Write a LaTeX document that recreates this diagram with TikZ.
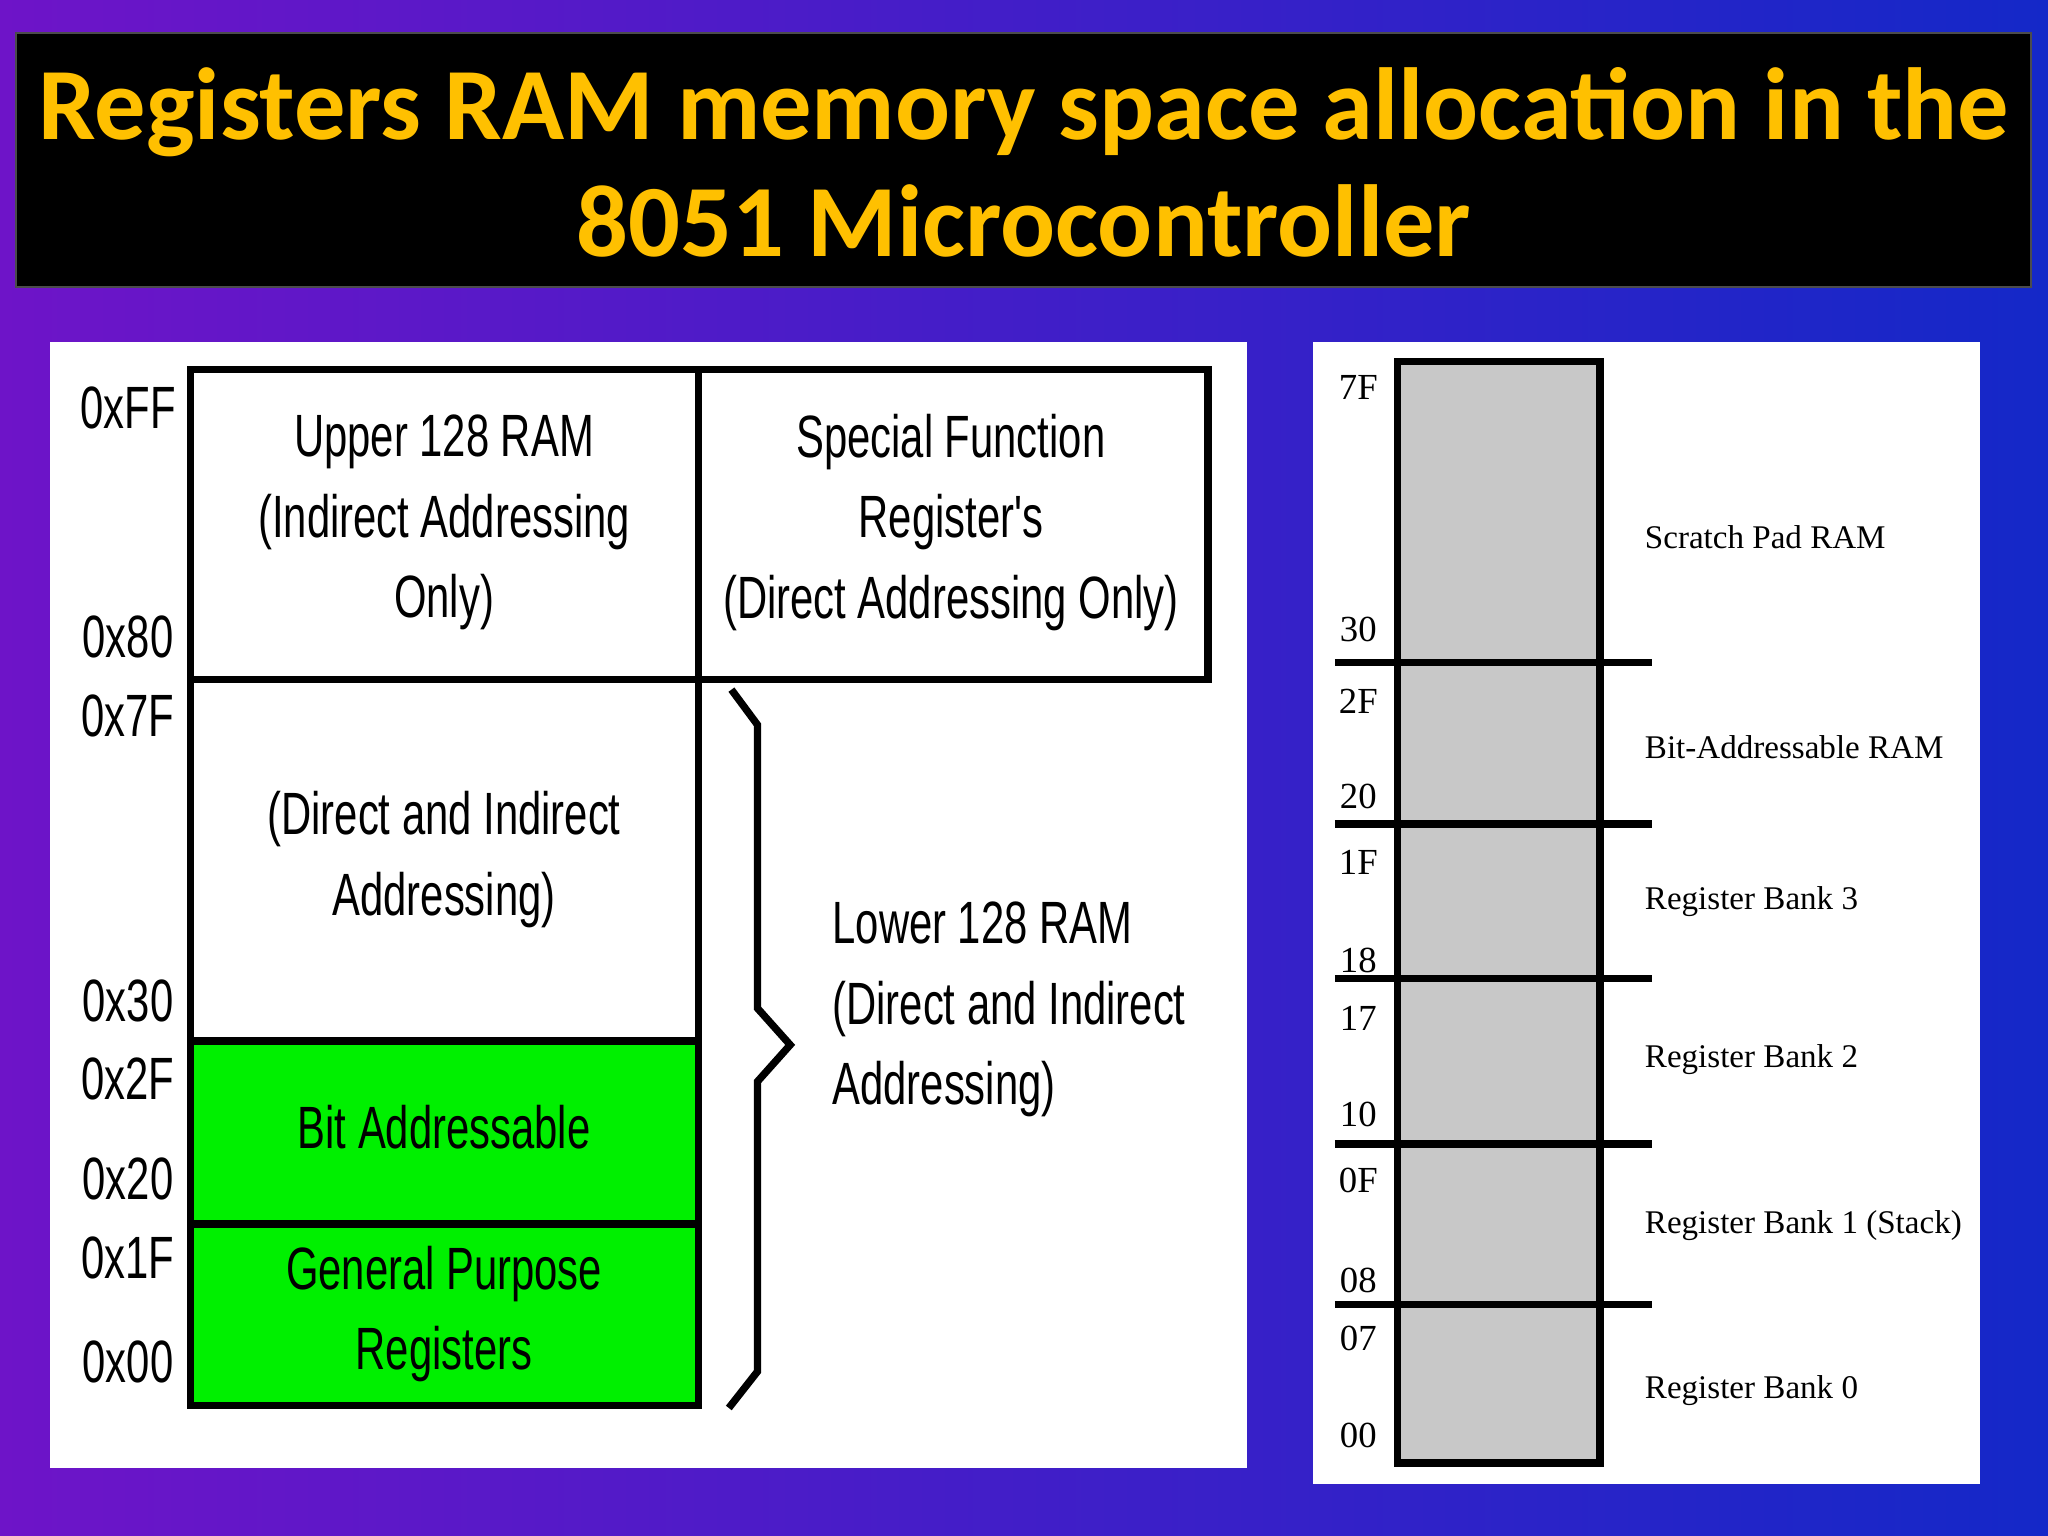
\documentclass[tikz,border=0pt]{standalone}
\usepackage{fontspec}
\setmainfont{Liberation Serif}
\newfontfamily\titlefont{Carlito}
\newfontfamily\condfont[FakeStretch=0.7]{Liberation Sans}
\definecolor{titleyellow}{RGB}{255,192,0}
\definecolor{bgpurple}{RGB}{110,20,200}
\definecolor{bgblue}{RGB}{20,40,200}
\definecolor{boxgreen}{RGB}{0,240,0}
\definecolor{padgray}{RGB}{200,200,200}
\begin{document}
\begin{tikzpicture}[x=0.01cm,y=-0.01cm,
  edge/.style={line width=1.6pt},
  addr/.style={font=\condfont\fontsize{13}{15}\selectfont},
  lab/.style={font=\condfont\fontsize{13}{17.5}\selectfont,align=center},
  raddr/.style={font=\fontsize{8}{10}\selectfont},
  rlab/.style={font=\fontsize{7.2}{10}\selectfont,anchor=west}]
\shade[left color=bgpurple,right color=bgblue] (0,0) rectangle (1568,1176);
\useasboundingbox (0,0) rectangle (1568,1176);
% title
\fill[black] (12,25) rectangle (1555,220);
\draw[gray!60!black] (12,25) rectangle (1555,220);
\node[font=\titlefont\bfseries\fontsize{22.3}{25.5}\selectfont,text=titleyellow,align=center] (title) at (784,124)
  {Registers RAM memory space allocation in the\\8051 Microcontroller};
% left panel
\fill[white] (38,262) rectangle (955,1124);
\fill[boxgreen] (146,797) rectangle (535,1076);
\draw[edge] (146,283) rectangle (925,520);
\draw[edge] (535,283) -- (535,1076);
\draw[edge] (146,520) rectangle (535,1076);
\draw[edge] (146,797) -- (535,797);
\draw[edge] (146,937) -- (535,937);
\node[lab] (upper) at (340,400) {Upper 128 RAM\\(Indirect Addressing\\Only)};
\node[lab] (sfr) at (728,400) {Special Function\\Register's\\(Direct Addressing Only)};
\node[lab] (direct) at (340,658) {(Direct and Indirect\\Addressing)};
\node[lab] (bit) at (340,863) {Bit Addressable};
\node[lab] (gpr) at (340,1006) {General Purpose\\Registers};
\draw[line width=1.6pt] (560,528) -- (580,555) -- (580,772) -- (605,800) -- (580,828) -- (580,1050) -- (558,1078);
\node[lab,align=left,anchor=west] (lower) at (625,773) {Lower 128 RAM\\(Direct and Indirect\\Addressing)};
\foreach \t/\y in {0xFF/312,0x80/488,0x7F/548,0x30/766,0x2F/826,0x20/903,0x1F/963,0x00/1043}
  \node[addr] (a\t) at (98,\y) {\t};
% right panel
\fill[white] (1005,262) rectangle (1516,1136);
\draw[edge,fill=padgray] (1070,277) rectangle (1225,1120);
\foreach \y in {507,631,749,876,999}
  \draw[edge] (1022,\y) -- (1265,\y);
\foreach \t/\y in {7F/297,30/482,2F/537,20/610,1F/660,18/735,17/780,10/853,0F/904,08/980,07/1025,00/1099}
  \node[raddr] (r\t) at (1040,\y) {\t};
\node[rlab] (scratch) at (1247,411) {Scratch Pad RAM};
\node[rlab] (bitram) at (1247,572) {Bit-Addressable RAM};
\node[rlab] (bank3) at (1247,690) {Register Bank 3};
\node[rlab] (bank2) at (1247,811) {Register Bank 2};
\node[rlab] (bank1) at (1247,938) {Register Bank 1 (Stack)};
\node[rlab] (bank0) at (1247,1065) {Register Bank 0};
\end{tikzpicture}
\end{document}
